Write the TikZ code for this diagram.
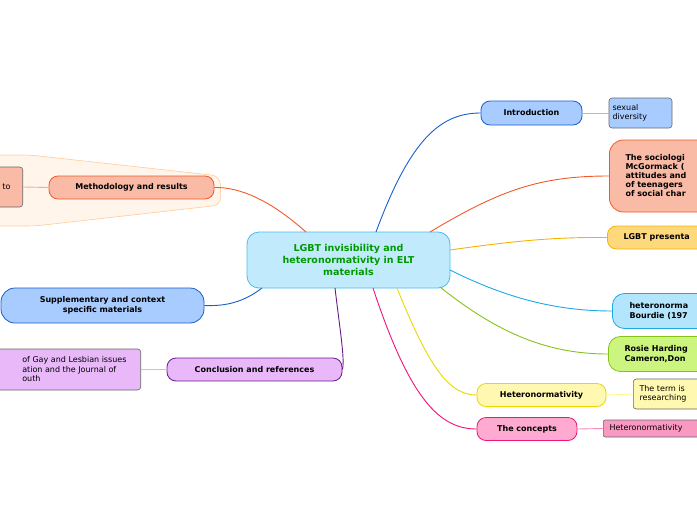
\documentclass[tikz,border=0pt]{standalone}
\usepackage{fontspec}
\setmainfont{DejaVu Sans}
\begin{document}
\begin{tikzpicture}[x=1pt,y=-1pt,
 topic/.style={draw,line width=0.8pt,rounded corners=9pt,font=\fontsize{8}{9.5}\selectfont\bfseries,align=center,inner sep=0pt},
 leaf/.style={draw=gray!80!black,line width=0.6pt,rounded corners=3pt,font=\fontsize{8}{9.5}\selectfont,align=left,inner sep=0pt},
 conn/.style={line width=0.9pt}, lconn/.style={line width=0.9pt}]
\useasboundingbox (0,0) rectangle (697,520);
\clip (0,0) rectangle (697,520);
\definecolor{cblue}{HTML}{1560D0}\definecolor{fblue}{HTML}{A8CCFF}
\definecolor{cred}{HTML}{F05A28}\definecolor{fred}{HTML}{F9BAA6}
\definecolor{cyel}{HTML}{F4B400}\definecolor{fyel}{HTML}{FED87C}
\definecolor{ccy}{HTML}{1CA9E6}\definecolor{fcy}{HTML}{B3E5FC}
\definecolor{cgr}{HTML}{86C21A}\definecolor{fgr}{HTML}{CCF580}
\definecolor{cy2}{HTML}{E8D800}\definecolor{fy2}{HTML}{FFF8B0}
\definecolor{cpk}{HTML}{F0147A}\definecolor{fpk}{HTML}{FFAAD0}
\definecolor{cpu}{HTML}{6A1A8A}\definecolor{fpu}{HTML}{E8B8F8}
% boundary
\draw[draw=orange!40,fill=orange!8,line width=0.6pt,rounded corners=8pt] (-10,155) -- (30,155) -- (220,176) -- (221,205) -- (35,226) -- (-10,226) -- cycle;
% center
\node[draw=ccy!80,fill=fcy!80,line width=0.8pt,rounded corners=12pt,minimum width=203pt,minimum height=56pt,align=center,text=green!60!black,font=\fontsize{9.5}{12}\selectfont\bfseries] (c) at (348.5,260) {LGBT invisibility and\\heteronormativity in ELT\\materials};
% right topics
\node[topic,draw=cblue,fill=fblue,minimum width=101pt,minimum height=24pt] (intro) at (531.5,113) {Introduction};
\node[leaf,fill=fblue,minimum width=63pt,minimum height=30pt,text width=56pt] (sd) at (640.5,113) {sexual\\diversity};
\node[topic,draw=cred,fill=fred,minimum width=130pt,minimum height=72pt,anchor=west,rounded corners=14pt] (soc) at (609,176) {};
\node[anchor=west,font=\fontsize{8}{9}\selectfont\bfseries,align=left] at (622,176) {The sociologi\\McGormack (\\attitudes and\\of teenagers\\of social char};
\node[topic,draw=cyel,fill=fyel,minimum width=110pt,minimum height=23pt,anchor=west] (lgbt) at (607,237.5) {};
\node[anchor=west,font=\fontsize{8}{9.5}\selectfont\bfseries] at (620,237.5) {LGBT presenta};
\node[topic,draw=ccy,fill=fcy,minimum width=110pt,minimum height=35pt,anchor=west,rounded corners=12pt] (het) at (612,311) {};
\node[anchor=west,font=\fontsize{8}{9.5}\selectfont\bfseries,align=left] at (626,311) {heteronorma\\Bourdie (197};
\node[topic,draw=cgr,fill=fgr,minimum width=110pt,minimum height=35pt,anchor=west,rounded corners=12pt] (rosie) at (608,354) {};
\node[anchor=west,font=\fontsize{8}{9.5}\selectfont\bfseries,align=left] at (621,354) {Rosie Harding\\Cameron,Don};
\node[topic,draw=cy2,fill=fy2,minimum width=129pt,minimum height=23pt] (hn) at (541.5,395) {Heteronormativity};
\node[leaf,fill=fy2,minimum width=90pt,minimum height=30pt,anchor=west] (term) at (633,394) {};
\node[anchor=west,font=\fontsize{8}{9.5}\selectfont,align=left] at (636,394) {The term is\\researching};
\node[topic,draw=cpk,fill=fpk,minimum width=100pt,minimum height=23pt] (con) at (527,429) {The concepts};
\node[leaf,fill=fpk!90!purple,minimum width=110pt,minimum height=17pt,anchor=west,rounded corners=2pt] (hl) at (603,428.5) {};
\node[anchor=west,font=\fontsize{8}{9.5}\selectfont] at (606,428.5) {Heteronormativity};
% left topics
\node[topic,draw=cred,fill=fred,minimum width=165pt,minimum height=23pt] (meth) at (131.5,187.5) {Methodology and results};
\node[leaf,fill=fred,minimum width=50pt,minimum height=40pt,anchor=east] (to) at (23,187) {};
\node[anchor=east,font=\fontsize{8}{9.5}\selectfont] at (14,187) {to};
\node[topic,draw=cblue,fill=fblue,minimum width=203pt,minimum height=35pt,rounded corners=14pt] (sup) at (102.5,305.5) {Supplementary and context\\specific materials};
\node[topic,draw=cpu,fill=fpu,minimum width=175pt,minimum height=23pt] (concl) at (254.5,369.5) {Conclusion and references};
\node[leaf,fill=fpu,minimum width=160pt,minimum height=41pt,anchor=east] (jr) at (141,369.5) {};
\node[anchor=east,font=\fontsize{8}{9.5}\selectfont,align=left] at (130,369.5) {of Gay and Lesbian issues\\ation and the Journal of\\outh\phantom{ and Lesbian issues}};
% connectors
\draw[conn,cblue] (376,232) .. controls (410,140) and (440,113) .. (intro.west);
\draw[lconn,fblue!80!gray] (intro.east) -- (sd.west);
\draw[conn,cred] (430,232) .. controls (500,190) and (540,176) .. (soc.west);
\draw[conn,cyel] (450,250) .. controls (520,240) and (560,237) .. (lgbt.west);
\draw[conn,ccy] (450,270) .. controls (510,300) and (560,311) .. (het.west);
\draw[conn,cgr] (440,287) .. controls (500,335) and (550,354) .. (rosie.west);
\draw[conn,cy2] (397,288) .. controls (430,370) and (450,395) .. (hn.west);
\draw[lconn,fy2!80!yellow] (hn.east) -- (term.west);
\draw[conn,cpk] (373,288) .. controls (410,400) and (440,429) .. (con.west);
\draw[lconn,cpk!50] (con.east) -- (hl.west);
\draw[conn,cred] (306,232) .. controls (270,200) and (240,187) .. (meth.east);
\draw[lconn,cred!50] (meth.west) -- (to.east);
\draw[conn,cblue] (262,288) .. controls (240,305) and (220,306) .. (sup.east);
\draw[conn,cpu] (335,288) .. controls (340,330) and (345,360) .. (concl.east);
\draw[lconn,cpu!30] (concl.west) -- (jr.east);
\end{tikzpicture}
\end{document}
